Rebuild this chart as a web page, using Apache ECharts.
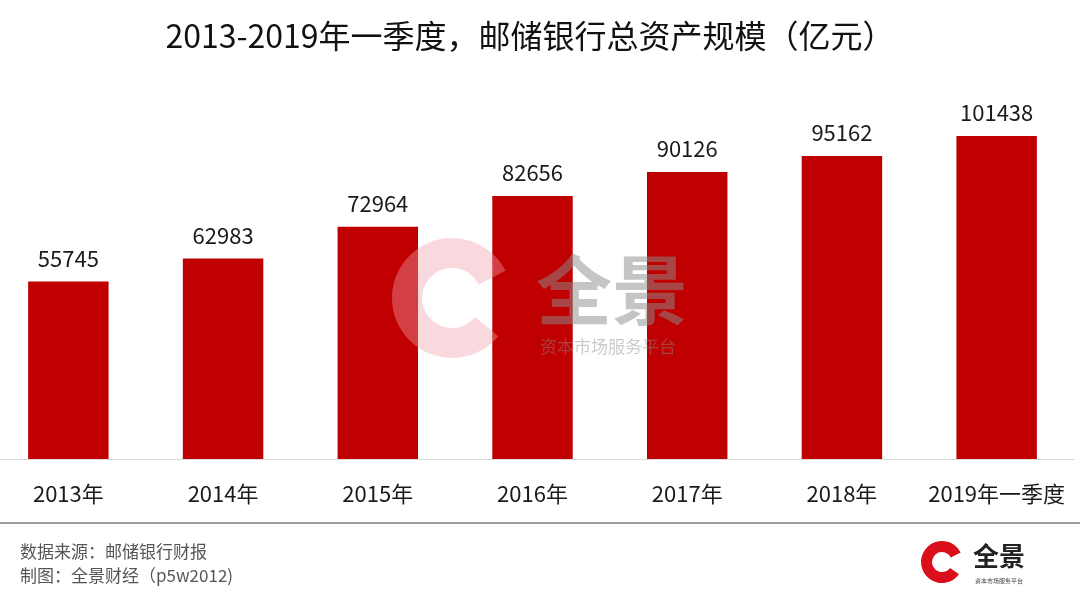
<!DOCTYPE html>
<html>
<head>
<meta charset="utf-8">
<script src="https://cdn.jsdelivr.net/npm/echarts@6/dist/echarts.min.js"></script>
<style>
html,body{margin:0;padding:0;background:#fff;}
#chart{width:1080px;height:600px;}
</style>
</head>
<body>
<div id="chart"></div>
<script>
const categories = ['2013年', '2014年', '2015年', '2016年', '2017年', '2018年', '2019年一季度'];
const totalAssets = [55745, 62983, 72964, 82656, 90126, 95162, 101438];
const titleText = '2013-2019年一季度，邮储银行总资产规模（亿元）';
const sourceLines = ['数据来源：邮储银行财报', '制图：全景财经（p5w2012)'];

const FONT = '"Noto Sans CJK SC", "Microsoft YaHei", sans-serif';
const chart = echarts.init(document.getElementById('chart'));

chart.setOption({
  backgroundColor: '#ffffff',
  animation: false,
  title: {
    text: titleText,
    left: 525, top: 15, textAlign: 'center',
    textStyle: { fontFamily: FONT, fontSize: 32, fontWeight: 'normal', color: '#111' }
  },
  grid: { left: -9, right: 6, top: 77, bottom: 141, outerBoundsMode: 'none', containLabel: false },
  xAxis: {
    type: 'category',
    data: categories,
    axisLine: { lineStyle: { color: '#d9d9d9', width: 1 } },
    axisTick: { show: false },
    axisLabel: { interval: 0, fontFamily: FONT, fontSize: 22, color: '#1a1a1a', margin: 24, hideOverlap: false }
  },
  yAxis: {
    type: 'value', min: 0, max: 120000, show: false,
    splitLine: { show: false }
  },
  series: [{
    type: 'bar',
    data: totalAssets,
    barWidth: '52%',
    itemStyle: { color: '#c00000' },
    label: {
      show: true, position: 'top', distance: 12,
      fontFamily: FONT, fontSize: 22, color: '#1a1a1a'
    }
  }],
  graphic: [
    // watermark
    { type: 'sector', z: 100, silent: true,
      shape: { cx: 452, cy: 298, r: 60, r0: 30, startAngle: Math.PI * 0.22, endAngle: Math.PI * 1.85 },
      style: { fill: 'rgba(240,160,170,0.4)' } },
    { type: 'text', z: 100, silent: true, left: 536, top: 252,
      style: { text: '全景', fontFamily: FONT, fontSize: 76, fontWeight: 'bold', fill: 'rgba(140,140,140,0.5)' } },
    { type: 'text', z: 100, silent: true, left: 540, top: 338,
      style: { text: '资本市场服务平台', fontFamily: FONT, fontSize: 17, fill: 'rgba(140,140,140,0.45)' } },
    // footer separator
    { type: 'line', shape: { x1: 0, y1: 523, x2: 1080, y2: 523 },
      style: { stroke: '#7a7a7a', lineWidth: 1.5 } },
    { type: 'text', left: 20, top: 543,
      style: { text: sourceLines[0], fontFamily: FONT, fontSize: 17, fill: '#555' } },
    { type: 'text', left: 20, top: 567,
      style: { text: sourceLines[1], fontFamily: FONT, fontSize: 17, fill: '#555' } },
    // bottom-right logo
    { type: 'sector',
      shape: { cx: 942, cy: 562, r: 21, r0: 10, startAngle: Math.PI * 0.2, endAngle: Math.PI * 1.85 },
      style: { fill: '#d9101c' } },
    { type: 'text', left: 973, top: 543,
      style: { text: '全景', fontFamily: FONT, fontSize: 26, fontWeight: 'bold', fill: '#222' } },
    { type: 'text', left: 975, top: 578,
      style: { text: '资本市场服务平台', fontFamily: FONT, fontSize: 6, fill: '#444' } }
  ]
});
</script>
</body>
</html>
